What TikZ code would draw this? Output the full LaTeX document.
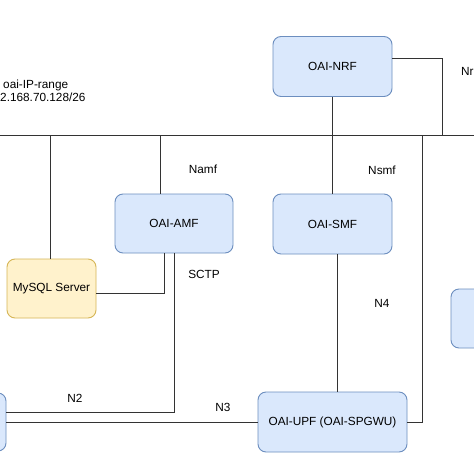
\documentclass[tikz,border=0pt]{standalone}
\usepackage{fontspec}
\setmainfont{Liberation Sans}
\usepackage{xcolor}
\usepackage{tikz}
\usetikzlibrary{calc}
\definecolor{oaiBlue}{HTML}{dae8fc}
\definecolor{oaiBlueLine}{HTML}{6c8ebf}
\definecolor{oaiYellow}{HTML}{fff2cc}
\definecolor{oaiYellowLine}{HTML}{d6b656}

\tikzset{
    nfbox/.style={draw=oaiBlueLine, fill=oaiBlue, rounded corners=8pt, line width=0.9pt, inner sep=0pt},
    dbbox/.style={draw=oaiYellowLine, fill=oaiYellow, rounded corners=8pt, line width=0.9pt, inner sep=0pt},
    link/.style={draw=black!80, line width=1pt},
    lbl/.style={inner sep=0pt}
}

\begin{document}
\begin{tikzpicture}[x=1pt, y=-1pt, font=\fontsize{11.8}{14}\selectfont]
                \useasboundingbox (0, 0) rectangle (474, 474);
                \fill[white] (0, 0) rectangle (474, 474);
                \clip (0, 0) rectangle (474, 474);
                % network functions
                \node[nfbox, minimum width=119pt, minimum height=60pt] (nrf) at (332.5, 66.5) {OAI-NRF};
                \node[nfbox, minimum width=118pt, minimum height=59pt] (amf) at (174, 223.5) {OAI-AMF};
                \node[nfbox, minimum width=119pt, minimum height=60pt] (smf) at (332.5, 224) {OAI-SMF};
                \node[dbbox, minimum width=89pt, minimum height=59pt] (mysql) at (51.5, 288.5) {MySQL Server};
                \node[nfbox, minimum width=149pt, minimum height=60pt] (upf) at (332.5, 422) {OAI-UPF (OAI-SPGWU)};
                \node[nfbox, minimum width=60pt, minimum height=58pt] (gnb) at (-24, 422) {};
                \node[nfbox, minimum width=60pt, minimum height=59pt] (ext) at (481, 318.5) {};
                % bus
                \coordinate (busW) at (0, 135);
                \coordinate (busE) at (474, 135);
                \draw[link] (busW) -- (busE);
                \draw[link] (nrf.south) -- (nrf.south |- busW);
                \draw[link] (smf.north) -- (smf.north |- busW);
                \draw[link] (amf.north -| 160, 0) -- (160, 0 |- busW);
                \draw[link] (mysql.north -| 50, 0) -- (50, 0 |- busW);
                \draw[link] (nrf.east |- 0, 58) -- (442, 58) -- (442, 0 |- busW);
                \draw[link] (upf.east) -- (422, 0 |- upf.east) -- (422, 0 |- busW);
                % interfaces
                \draw[link] (mysql.east |- 0, 293) -- (164, 293) -- (164, 0 |- amf.south);
                \draw[link] (174, 0 |- amf.south) -- (174, 412) -- (gnb.east |- 0, 412);
                \draw[link] (gnb.east) -- (upf.west);
                \draw[link] (337, 0 |- smf.south) -- (337, 0 |- upf.north);
                % labels
                \node[lbl, anchor=west] (range) at (3, 85) {oai-IP-range};
                \node[lbl, anchor=west] (subnet) at (0, 97.5) {2.168.70.128/26};
                \node[lbl] (namf) at (203, 169) {Namf};
                \node[lbl] (nsmf) at (382, 170) {Nsmf};
                \node[lbl, anchor=west] (nnrf) at (461, 71) {Nr};
                \node[lbl] (sctp) at (204, 274) {SCTP};
                \node[lbl] (n4) at (382, 303) {N4};
                \node[lbl] (n2) at (75, 398) {N2};
                \node[lbl] (n3) at (223, 407) {N3};
            \end{tikzpicture}
\end{document}
